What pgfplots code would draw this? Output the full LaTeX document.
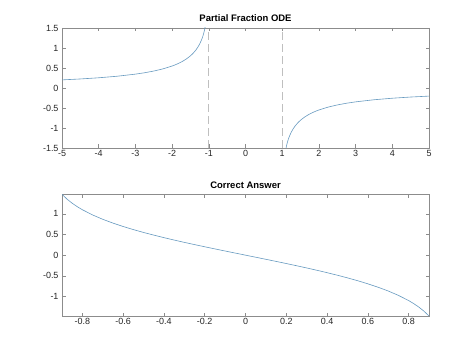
\documentclass[border=0pt]{standalone}
\usepackage{pgfplots}
\pgfplotsset{compat=1.18}
\usepackage{fontspec}
\setmainfont{Liberation Sans}
\definecolor{mline}{rgb}{0.40,0.60,0.75}
\definecolor{axgray}{rgb}{0.55,0.55,0.55}
\definecolor{labgray}{rgb}{0.15,0.15,0.15}
\pgfplotsset{
  mstyle/.style={
    scale only axis,
    axis line style={axgray, line width=0.6pt},
    tick style={axgray, line width=0.6pt},
    major tick length=3.5bp,
    tick align=inside,
    xtick pos=both, ytick pos=both,
    ticklabel style={font=\fontsize{9}{10}\selectfont, text=labgray},
    /pgf/number format/assume math mode=true,
    title style={font=\bfseries\fontsize{9.5}{11}\selectfont, yshift=-3.5bp},
    every axis plot/.append style={line width=0.6pt},
    xticklabel style={yshift=1bp},
  }
}
\begin{document}
\begin{tikzpicture}
\path (0bp,0bp) rectangle (474bp,-355bp);
\begin{axis}[mstyle,
  at={(62bp,-28bp)}, anchor=north west,
  width=367bp, height=120bp,
  xmin=-5, xmax=5, ymin=-1.5, ymax=1.5,
  xtick={-5,-4,...,5},
  ytick={-1.5,-1,-0.5,0,0.5,1,1.5},
  yticklabels={-1.5,-1,-0.5,0,0.5,1,1.5},
  xticklabels={-5,-4,-3,-2,-1,0,1,2,3,4,5},
  title={Partial Fraction ODE},
]
\addplot[mline] coordinates {
(-5,0.2027) (-4.5,0.2260) (-4,0.2554) (-3.5,0.2939) (-3,0.3466) (-2.75,0.3811)
(-2.5,0.4236) (-2.25,0.4778) (-2,0.5493) (-1.9,0.5850) (-1.8,0.6264) (-1.7,0.6749)
(-1.6,0.7332) (-1.5,0.8047) (-1.45,0.8473) (-1.4,0.8959) (-1.35,0.9521) (-1.3,1.0184)
(-1.25,1.0986) (-1.2,1.1989) (-1.18,1.2471) (-1.16,1.3013) (-1.14,1.3635)
(-1.12,1.4359) (-1.1,1.5223)
};
\addplot[mline] coordinates {
(1.1,-1.5223) (1.12,-1.4359) (1.14,-1.3635) (1.16,-1.3013) (1.18,-1.2471)
(1.2,-1.1989) (1.25,-1.0986) (1.3,-1.0184) (1.35,-0.9521) (1.4,-0.8959)
(1.45,-0.8473) (1.5,-0.8047) (1.6,-0.7332) (1.7,-0.6749) (1.8,-0.6264)
(1.9,-0.5850) (2,-0.5493) (2.25,-0.4778) (2.5,-0.4236) (2.75,-0.3811)
(3,-0.3466) (3.5,-0.2939) (4,-0.2554) (4.5,-0.2260) (5,-0.2027)
};
\addplot[color=black!25, line width=0.8pt, dash pattern=on 8bp off 4bp] coordinates {(-1,-1.5) (-1,1.5)};
\addplot[color=black!25, line width=0.8pt, dash pattern=on 8bp off 4bp] coordinates {(1,-1.5) (1,1.5)};
\end{axis}
\begin{axis}[mstyle,
  at={(62bp,-194.3bp)}, anchor=north west,
  width=367bp, height=121.7bp,
  xmin=-0.9, xmax=0.9, ymin=-1.4722, ymax=1.4722,
  xtick={-0.8,-0.6,...,0.81},
  xticklabels={-0.8,-0.6,-0.4,-0.2,0,0.2,0.4,0.6,0.8},
  ytick={-1,-0.5,0,0.5,1},
  yticklabels={-1,-0.5,0,0.5,1},
  title={Correct Answer},
]
\addplot[mline] coordinates {
(-0.9,1.4722) (-0.875,1.3540) (-0.85,1.2562) (-0.825,1.1722) (-0.8,1.0986)
(-0.75,0.9730) (-0.7,0.8673) (-0.65,0.7753) (-0.6,0.6931) (-0.55,0.6184)
(-0.5,0.5493) (-0.45,0.4847) (-0.4,0.4236) (-0.35,0.3654) (-0.3,0.3095)
(-0.25,0.2554) (-0.2,0.2027) (-0.15,0.1511) (-0.1,0.1003) (-0.05,0.0500)
(0,0) (0.05,-0.0500) (0.1,-0.1003) (0.15,-0.1511) (0.2,-0.2027) (0.25,-0.2554)
(0.3,-0.3095) (0.35,-0.3654) (0.4,-0.4236) (0.45,-0.4847) (0.5,-0.5493)
(0.55,-0.6184) (0.6,-0.6931) (0.65,-0.7753) (0.7,-0.8673) (0.75,-0.9730)
(0.8,-1.0986) (0.825,-1.1722) (0.85,-1.2562) (0.875,-1.3540) (0.9,-1.4722)
};
\end{axis}
\end{tikzpicture}
\end{document}
